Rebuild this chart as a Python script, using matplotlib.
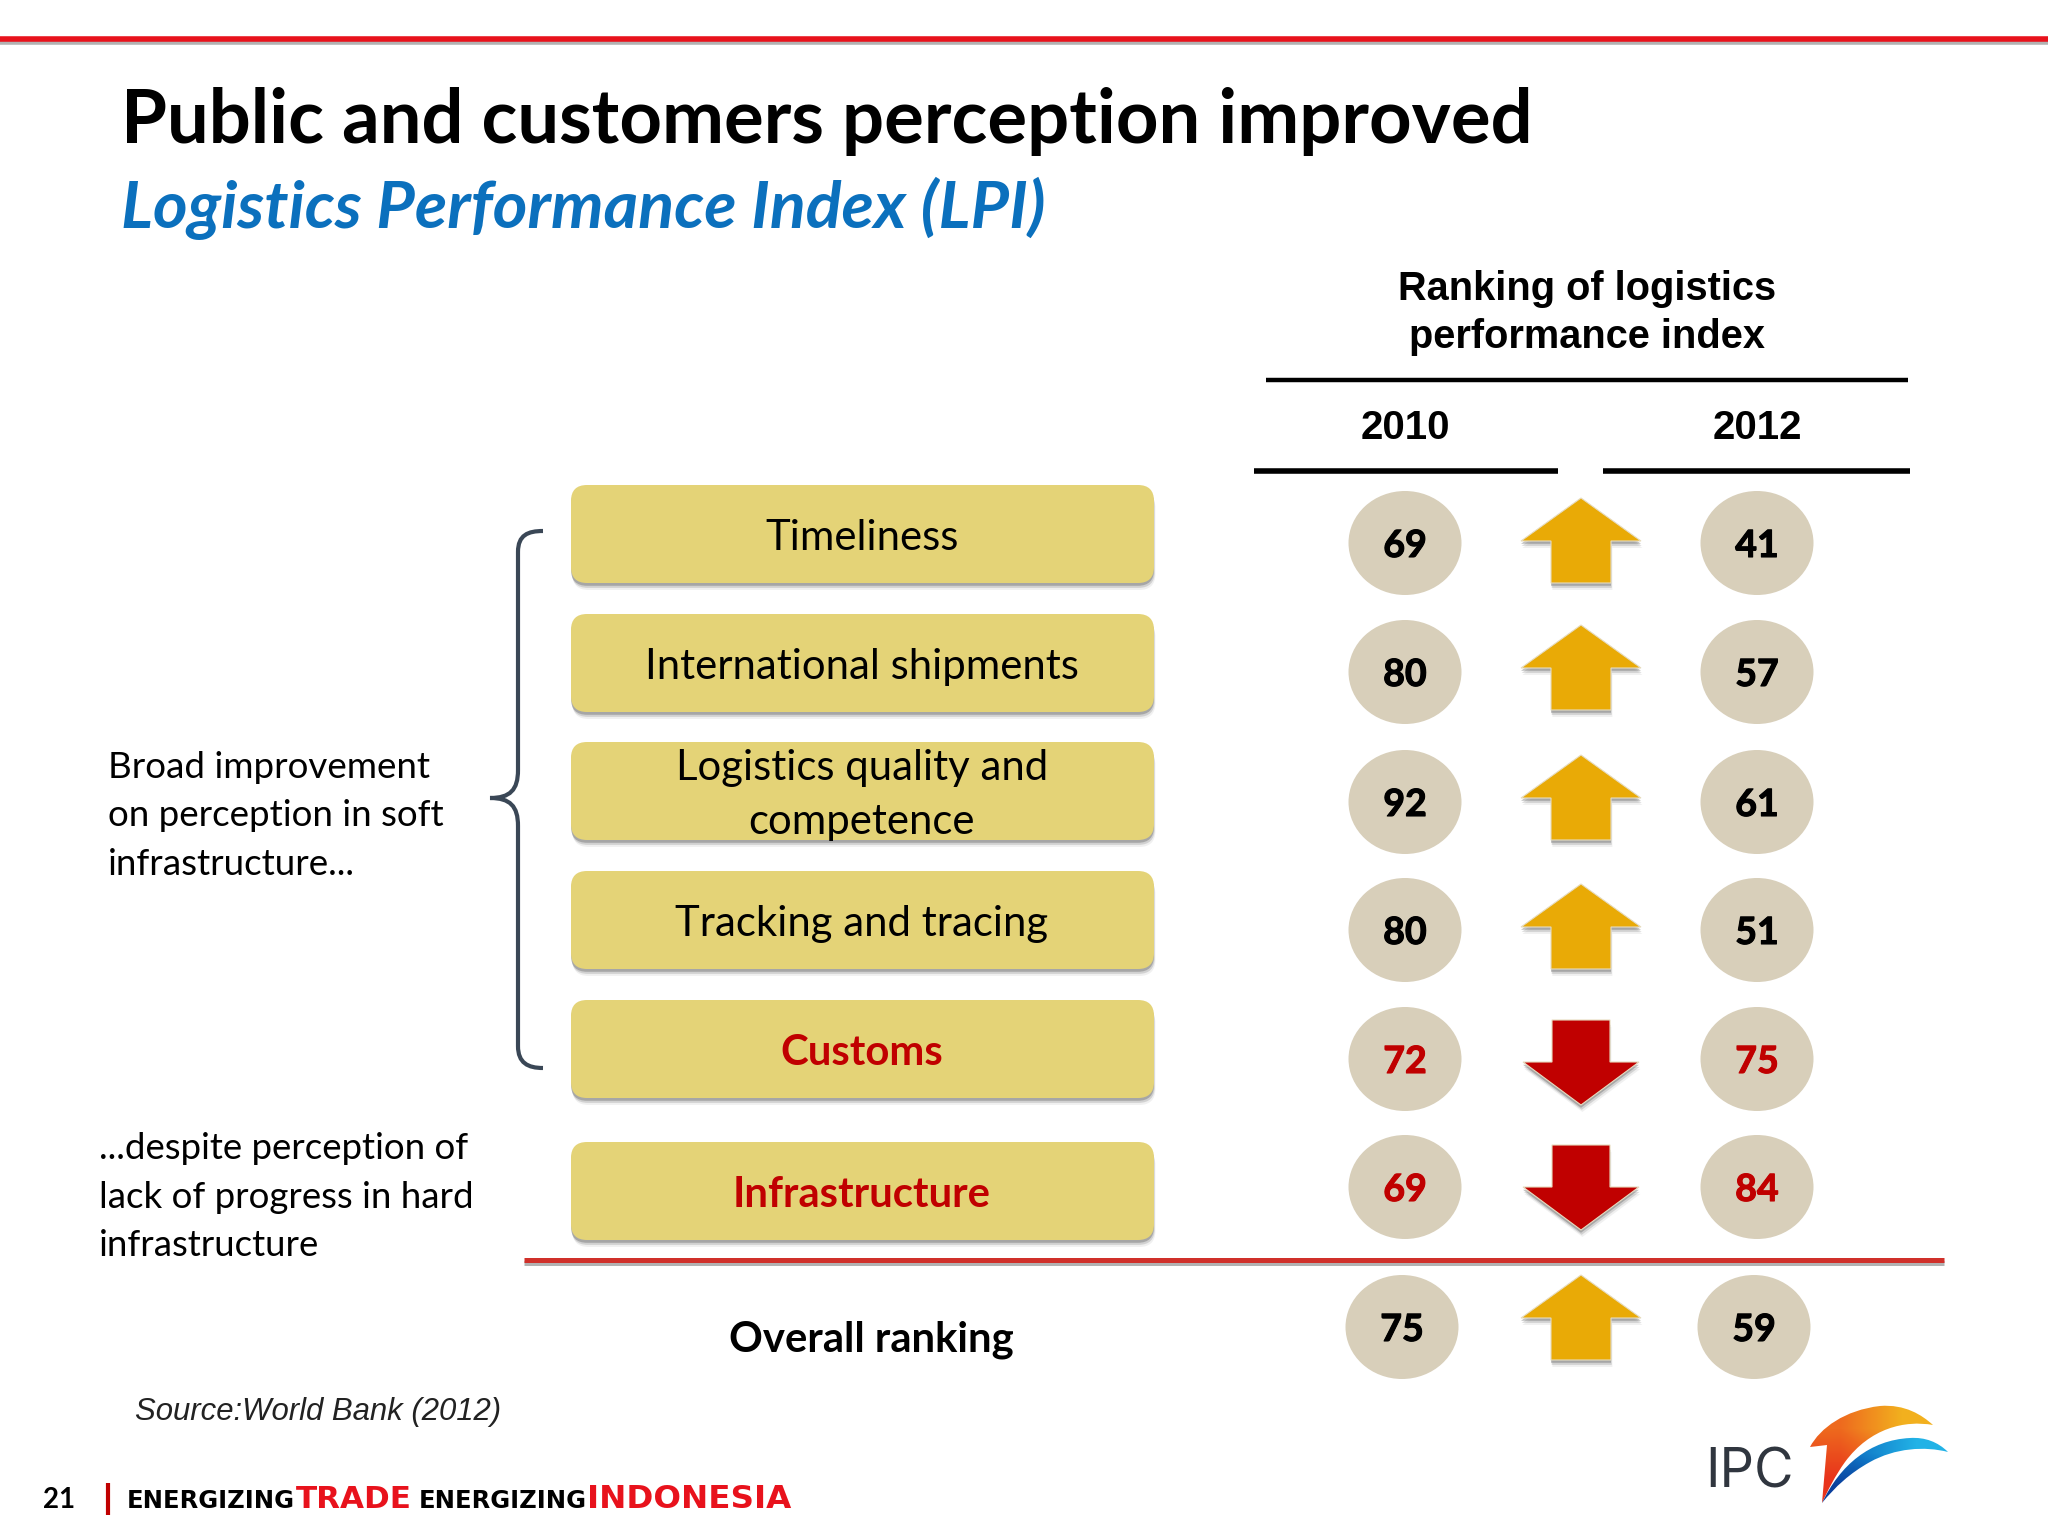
#!/usr/bin/env python3

import matplotlib

matplotlib.use("Agg")
import matplotlib.patheffects as pe
import matplotlib.pyplot as plt
from matplotlib.colors import LinearSegmentedColormap
from matplotlib.patches import Ellipse, FancyBboxPatch, PathPatch, Polygon
from matplotlib.path import Path

CATEGORIES = [
    "Timeliness",
    "International shipments",
    "Logistics quality and\ncompetence",
    "Tracking and tracing",
    "Customs",
    "Infrastructure",
]
RANK_2010 = [69, 80, 92, 80, 72, 69]
RANK_2012 = [41, 57, 61, 51, 75, 84]
OVERALL_LABEL = "Overall ranking"
OVERALL_2010 = 75
OVERALL_2012 = 59
YEARS = ["2010", "2012"]

BODY = "Lato"
ARIAL = "Liberation Sans"
RED = "#c00000"
GOLD = "#e9aa06"
TAN = "#d8cfba"
BOX = "#e4d377"

# vertical positions in pixels
BOX_TOPS = [485, 614, 742, 871, 1000, 1142]
CIRCLE_Y = [543, 672, 802, 930, 1059, 1187]
ARROW_TOPS = [498, 625, 755, 884, 1020, 1145]
X_2010 = 1405
X_2012 = 1757
X_ARROW = 1581


def shadow():
    return [
        pe.SimplePatchShadow(offset=(1, -5), shadow_rgbFace="#888888", alpha=0.12),
        pe.SimplePatchShadow(offset=(0.5, -3.5), shadow_rgbFace="#777777", alpha=0.25),
        pe.SimplePatchShadow(offset=(0, -2), shadow_rgbFace="#666666", alpha=0.4),
        pe.Normal(),
    ]


def draw_arrow(ax, top, up):
    head = 43
    if up:
        pts = [
            (0, 0), (60, head), (30, head), (30, 85),
            (-30, 85), (-30, head), (-60, head),
        ]
    else:
        pts = [
            (-29, 0), (29, 0), (29, 85 - head), (58, 85 - head),
            (0, 85), (-58, 85 - head), (-29, 85 - head),
        ]
    pts = [(X_ARROW + x, top + y) for x, y in pts]
    ax.add_patch(
        Polygon(
            pts,
            closed=True,
            facecolor=GOLD if up else RED,
            edgecolor="#e6dcc0",
            linewidth=0.8,
            path_effects=shadow(),
            zorder=3,
        )
    )


def draw_circle(ax, x, y, value, color):
    ax.add_patch(Ellipse((x, y), 113, 104, facecolor=TAN, edgecolor="none", zorder=2))
    ax.text(
        x, y + 3, str(value), family=BODY, weight="bold", fontsize=27,
        color=color, ha="center", va="center", zorder=4,
        path_effects=[pe.withStroke(linewidth=0.8, foreground=color)],
    )


def draw_brace(ax):
    verts = [
        (543, 531), (528, 531), (518, 535), (518, 552),
        (518, 770), (518, 790), (510, 798), (490, 798),
        (510, 798), (518, 806), (518, 826),
        (518, 1046), (518, 1063), (528, 1068), (543, 1068),
    ]
    codes = [
        Path.MOVETO, Path.CURVE4, Path.CURVE4, Path.CURVE4,
        Path.LINETO, Path.CURVE4, Path.CURVE4, Path.CURVE4,
        Path.CURVE4, Path.CURVE4, Path.CURVE4,
        Path.LINETO, Path.CURVE4, Path.CURVE4, Path.CURVE4,
    ]
    ax.add_patch(
        PathPatch(Path(verts, codes), facecolor="none", edgecolor="#3a4756", linewidth=3)
    )


def gradient_shape(ax, verts, codes, colors):
    # fill a path with a lower left to upper right gradient
    patch = PathPatch(Path(verts, codes), facecolor="none", edgecolor="none")
    ax.add_patch(patch)
    xs = [v[0] for v in verts]
    ys = [v[1] for v in verts]
    cmap = LinearSegmentedColormap.from_list("swoosh", colors)
    im = ax.imshow(
        [[0.5, 1.0], [0.0, 0.5]],
        extent=(min(xs), max(xs), max(ys), min(ys)),
        cmap=cmap, vmin=0, vmax=1, interpolation="bilinear", aspect="auto",
    )
    im.set_clip_path(patch)


def draw_logo(ax):
    ax.text(1705, 1468, "IPC", family="Inter", fontsize=39, color="#30363f",
            ha="left", va="center_baseline")
    orange = [
        (1810, 1447),
        (1820, 1428), (1845, 1410), (1880, 1406),
        (1905, 1404), (1922, 1415), (1933, 1425),
        (1905, 1420), (1870, 1428), (1845, 1462),
        (1835, 1476), (1828, 1490), (1822, 1503),
        (1827, 1445), (1810, 1447),
    ]
    orange_codes = [Path.MOVETO] + [Path.CURVE4] * 12 + [Path.LINETO, Path.LINETO]
    blue = [
        (1822, 1503),
        (1840, 1465), (1870, 1440), (1910, 1438),
        (1925, 1437), (1938, 1442), (1948, 1452),
        (1925, 1446), (1895, 1448), (1870, 1462),
        (1850, 1473), (1835, 1487), (1822, 1503),
    ]
    blue_codes = [Path.MOVETO] + [Path.CURVE4] * 12
    gradient_shape(ax, orange, orange_codes, ["#e8341c", "#ee6a1e", "#f2b01e"])
    gradient_shape(ax, blue, blue_codes, ["#0a3f9c", "#0f74c4", "#22b2e6"])


def main():
    fig = plt.figure(figsize=(20.48, 15.36), dpi=100)
    ax = fig.add_axes([0, 0, 1, 1])
    ax.axis("off")

    # Header.
    ax.plot([0, 2048], [39, 39], color="#e8121c", lw=4, solid_capstyle="butt",
            path_effects=[pe.SimpleLineShadow(offset=(0, -2), alpha=0.3), pe.Normal()])
    ax.text(121, 121, "Public and customers perception improved", family=BODY,
            weight="bold", fontsize=53.5, color="black", va="center")
    ax.text(121, 208, "Logistics Performance Index (LPI)", family=BODY, weight="bold",
            style="italic", fontsize=47.8, color="#0b70bd", va="center")

    # Table heading.
    ax.text(1587, 313, "Ranking of logistics\nperformance index", family=ARIAL, weight="bold",
            fontsize=28.6, ha="center", va="center", linespacing=1.3)
    ax.plot([1266, 1908], [380, 380], color="black", lw=3.2, solid_capstyle="butt")
    ax.plot([1254, 1558], [471, 471], color="black", lw=4, solid_capstyle="butt")
    ax.plot([1603, 1910], [471, 471], color="black", lw=4, solid_capstyle="butt")
    for x, year in zip([X_2010, X_2012], YEARS):
        ax.text(x, 428, year, family=ARIAL, weight="bold", fontsize=29, ha="center", va="center")

    # Rows.
    for i, category in enumerate(CATEGORIES):
        worse = RANK_2012[i] > RANK_2010[i]
        color = RED if worse else "black"
        ax.add_patch(
            FancyBboxPatch(
                (571 + 16, BOX_TOPS[i] + 16), 583 - 32, 98 - 32,
                boxstyle="round,pad=16,rounding_size=16",
                facecolor=BOX, edgecolor="none", path_effects=shadow(), zorder=2,
            )
        )
        ax.text(
            862, BOX_TOPS[i] + 53, category, family=BODY, fontsize=30.2,
            weight="bold" if worse else "normal", color=color,
            ha="center", va="center", linespacing=1.53, zorder=4,
        )
        draw_circle(ax, X_2010, CIRCLE_Y[i], RANK_2010[i], color)
        draw_circle(ax, X_2012, CIRCLE_Y[i], RANK_2012[i], color)
        draw_arrow(ax, ARROW_TOPS[i], not worse)

    # Overall row.
    ax.plot([524, 1944], [1260, 1260], color="#d0302a", lw=3.6, solid_capstyle="butt",
            path_effects=[pe.SimpleLineShadow(offset=(0, -2), alpha=0.3), pe.Normal()])
    ax.text(871, 1340, OVERALL_LABEL, family=BODY, weight="bold", fontsize=30.2,
            ha="center", va="center")
    draw_circle(ax, X_2010 - 3, 1327, OVERALL_2010, "black")
    draw_circle(ax, X_2012 - 3, 1327, OVERALL_2012, "black")
    draw_arrow(ax, 1275, True)

    # Side notes.
    draw_brace(ax)
    ax.text(108, 816, "Broad improvement\non perception in soft\ninfrastructure...",
            family=BODY, fontsize=26.5, va="center", linespacing=1.56)
    ax.text(99, 1197, "...despite perception of\nlack of progress in hard\ninfrastructure",
            family=BODY, fontsize=26.4, va="center", linespacing=1.57)
    ax.text(135, 1412, "Source:World Bank (2012)", family=ARIAL, style="italic",
            fontsize=22.4, va="center", color="#222222")

    # Footer.
    ax.text(43, 1500, "21", family=BODY, weight="bold", fontsize=20, va="center")
    ax.plot([108, 108], [1483, 1515], color=RED, lw=3, solid_capstyle="butt")
    ax.text(127, 1501, "ENERGIZING", family="DejaVu Sans", weight="bold", fontsize=17.5, va="center")
    ax.text(296, 1499, "TRADE", family="DejaVu Sans", weight="bold", fontsize=22.3, va="center",
            color="#e8121c")
    ax.text(419, 1501, "ENERGIZING", family="DejaVu Sans", weight="bold", fontsize=17.5, va="center")
    ax.text(587, 1499, "INDONESIA", family="DejaVu Sans", weight="bold", fontsize=23.4, va="center",
            color="#e8121c")
    draw_logo(ax)

    # imshow touches the limits, so set them last
    ax.set_xlim(0, 2048)
    ax.set_ylim(1536, 0)

    fig.savefig("out.png", dpi=100, facecolor="white")


if __name__ == "__main__":
    main()
